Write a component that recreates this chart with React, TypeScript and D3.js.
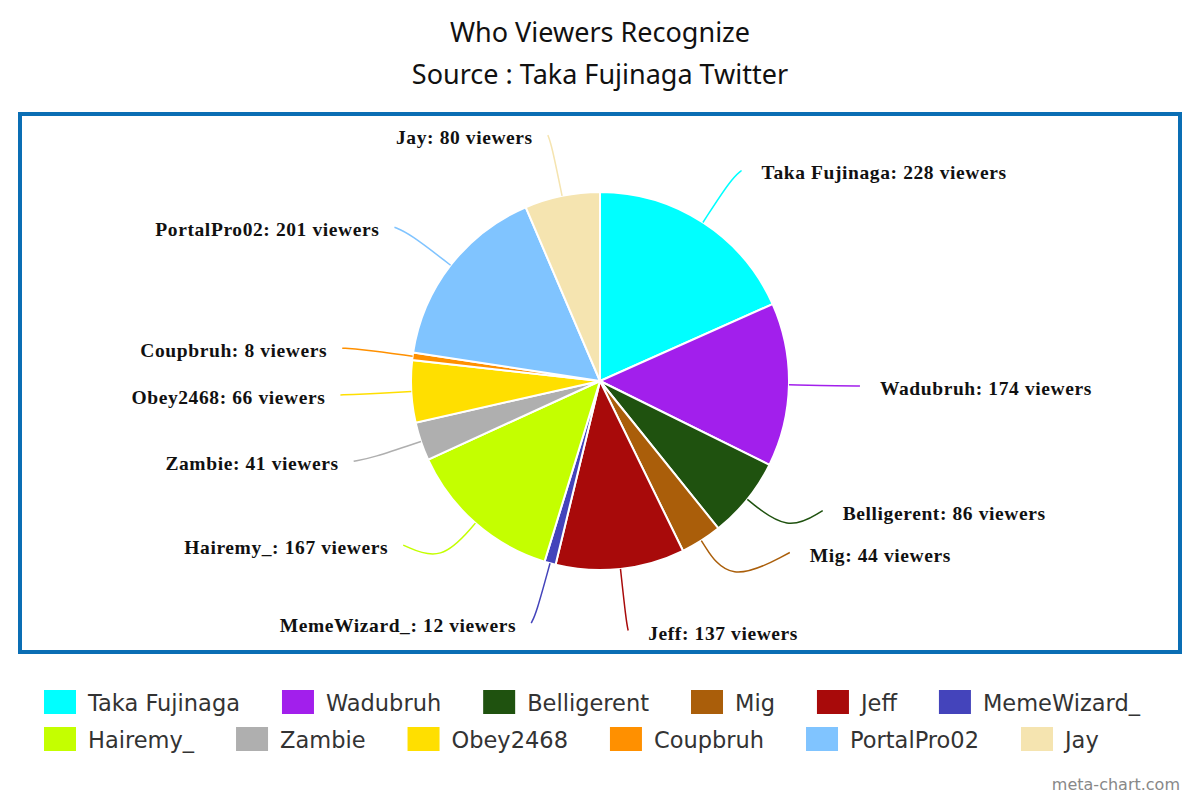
import React, { useMemo } from "react";
import * as d3 from "d3";

const names = ["Taka Fujinaga", "Wadubruh", "Belligerent", "Mig", "Jeff", "MemeWizard_", "Hairemy_", "Zambie", "Obey2468", "Coupbruh", "PortalPro02", "Jay"];
const viewers = [228, 174, 86, 44, 137, 12, 167, 41, 66, 8, 201, 80];
const colors = ["#00FFFF", "#A21FEC", "#1F520F", "#AA5E0A", "#A80A0A", "#4444BB", "#C4FF00", "#AFAFAF", "#FFDF00", "#FF9000", "#80C4FF", "#F5E4B0"];
const titleLines = ["Who Viewers Recognize", "Source : Taka Fujinaga Twitter"];
const watermark = "meta-chart.com";

const W = 1200;
const H = 800;
const cx = 600;
const cy = 381;
const R = 189;
const labelRx = 260;
const labelRy = 251;
const midR = 241;

function measure(text: string, font: string): number {
  const c = document.createElement("canvas").getContext("2d");
  if (!c) return text.length * 10;
  c.font = font;
  return c.measureText(text).width;
}

export default function App() {
  const pieData = useMemo(() => {
    const pie = d3.pie<number>().sort(null).value((d) => d);
    return pie(viewers);
  }, []);
  const arc = d3.arc<d3.PieArcDatum<number>>().innerRadius(0).outerRadius(R);

  const labels = pieData.map((d, i) => {
    const a = (d.startAngle + d.endAngle) / 2;
    const deg = (a * 180) / Math.PI;
    const y = cy - labelRy * Math.cos(a);
    return { i, a, deg, y, right: deg < 180, bottom: Math.abs(deg - 180) < 25 };
  });
  const resolve = (side: boolean) => {
    const list = labels.filter((l) => l.right === side).sort((p, q) => q.y - p.y);
    for (let k = 1; k < list.length; k++) {
      const prev = list[k - 1];
      const gap = prev.bottom ? 78 : 42;
      if (list[k].y > prev.y - gap) list[k].y = prev.y - gap;
    }
  };
  resolve(true);
  resolve(false);

  const line = d3.line().curve(d3.curveBasis);
  const labelFont = "bold 19.5px 'Liberation Serif'";

  const legendFont = "22.5px 'DejaVu Sans'";
  const legendItems: { i: number; x: number; y: number }[] = [];
  let lx = 44;
  let ly = 690;
  names.forEach((n, i) => {
    const w = 32 + 12 + measure(n, legendFont);
    if (lx + w > 1190) {
      lx = 44;
      ly += 37;
    }
    legendItems.push({ i, x: lx, y: ly });
    lx += w + 42;
  });

  return (
    <svg width={W} height={H} style={{ display: "block", position: "absolute", left: 0, top: 0 }}>
      <rect x={0} y={0} width={W} height={H} fill="#fff" />
      {titleLines.map((t, i) => (
        <text key={i} x={600} y={42 + i * 42} textAnchor="middle" fontFamily="'Noto Sans'" fontSize={27} fill="#111">
          {t}
        </text>
      ))}
      <rect x={20} y={114} width={1160} height={538} fill="none" stroke="#0A6EB4" strokeWidth={4} />
      <g transform={`translate(${cx},${cy})`}>
        {pieData.map((d, i) => (
          <path key={i} d={arc(d) || ""} fill={colors[i]} stroke="#fff" strokeWidth={2} />
        ))}
      </g>
      {labels.map((l) => {
        const t = Math.max(-1, Math.min(1, (l.y - cy) / labelRy));
        const dx = labelRx * Math.sqrt(1 - t * t);
        const ex = l.right ? cx + dx : cx - dx;
        const ey = l.y;
        const p0: [number, number] = [cx + R * Math.sin(l.a), cy - R * Math.cos(l.a)];
        const p1: [number, number] = [cx + midR * Math.sin(l.a), cy - midR * Math.cos(l.a)];
        const p2: [number, number] = [ex, ey];
        const text = `${names[l.i]}: ${viewers[l.i]} viewers`;
        return (
          <g key={l.i}>
            <path d={line([p0, p1, p2]) || ""} fill="none" stroke={colors[l.i]} strokeWidth={1.5} />
            <text
              x={l.right ? ex + 20 : ex - 15}
              y={ey + 9}
              textAnchor={l.right ? "start" : "end"}
              style={{ font: labelFont, letterSpacing: "0.6px" }}
              fill="#111"
            >
              {text}
            </text>
          </g>
        );
      })}
      {legendItems.map((it) => (
        <g key={it.i}>
          <rect x={it.x} y={it.y} width={32} height={24} fill={colors[it.i]} />
          <text x={it.x + 44} y={it.y + 21} style={{ font: legendFont }} fill="#333">
            {names[it.i]}
          </text>
        </g>
      ))}
      <text x={1180} y={790} textAnchor="end" fontFamily="'DejaVu Sans'" fontSize={16} fill="#888">
        {watermark}
      </text>
    </svg>
  );
}
